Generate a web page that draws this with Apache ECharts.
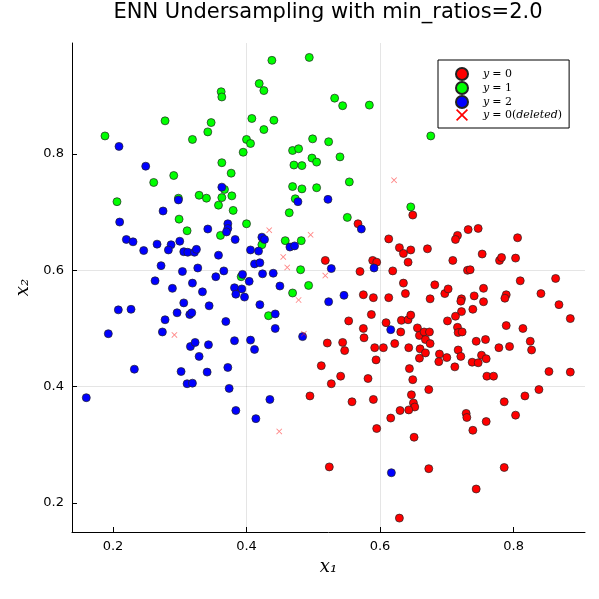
<!DOCTYPE html>
<html><head><meta charset="utf-8">
<script src="https://cdn.jsdelivr.net/npm/echarts@6/dist/echarts.min.js"></script>
<style>html,body{margin:0;padding:0;background:#fff}#c{width:599px;height:599px}</style>
</head><body><div id="c"></div>
<script>
// class y = 0 (kept)
const class0 = [[0.649,0.695],[0.567,0.680],[0.613,0.654],[0.629,0.639],[0.635,0.629],[0.646,0.635],[0.642,0.614],[0.518,0.617],[0.589,0.617],[0.595,0.614],[0.570,0.598],[0.619,0.599],[0.635,0.578],[0.575,0.558],[0.590,0.553],[0.613,0.553],[0.638,0.560],[0.587,0.524],[0.553,0.513],[0.609,0.510],[0.632,0.514],[0.642,0.515],[0.646,0.523],[0.575,0.500],[0.631,0.494],[0.656,0.501],[0.659,0.488],[0.576,0.484],[0.521,0.475],[0.544,0.476],[0.547,0.462],[0.592,0.467],[0.605,0.467],[0.622,0.474],[0.643,0.467],[0.660,0.465],[0.594,0.446],[0.659,0.449],[0.512,0.436],[0.644,0.431],
[0.716,0.660],[0.713,0.653],[0.732,0.670],[0.747,0.672],[0.806,0.656],[0.671,0.637],[0.709,0.617],[0.753,0.628],[0.779,0.617],[0.782,0.622],[0.803,0.621],[0.731,0.600],[0.735,0.601],[0.810,0.582],[0.863,0.586],[0.682,0.575],[0.697,0.560],[0.702,0.568],[0.755,0.569],[0.675,0.551],[0.722,0.551],[0.721,0.547],[0.741,0.556],[0.755,0.546],[0.789,0.558],[0.787,0.552],[0.841,0.560],[0.868,0.541],[0.885,0.517],[0.739,0.533],[0.722,0.529],[0.713,0.521],[0.701,0.513],[0.666,0.494],[0.674,0.494],[0.668,0.481],[0.675,0.474],[0.716,0.502],[0.717,0.493],[0.723,0.494],[0.789,0.505],[0.814,0.500],[0.744,0.478],[0.758,0.481],[0.778,0.467],[0.794,0.469],[0.825,0.478],[0.827,0.463],[0.668,0.458],[0.689,0.456],[0.700,0.450],[0.688,0.443],[0.717,0.463],[0.721,0.452],[0.752,0.454],[0.759,0.448],[0.738,0.442],[0.747,0.441],[0.712,0.434],
[0.649,0.412],[0.541,0.418],[0.527,0.405],[0.582,0.414],[0.495,0.384],[0.558,0.374],[0.590,0.378],[0.647,0.386],[0.650,0.372],[0.652,0.365],[0.643,0.360],[0.630,0.359],[0.616,0.346],[0.595,0.328],[0.651,0.313],[0.524,0.262],[0.629,0.174],[0.760,0.418],[0.770,0.418],[0.853,0.426],[0.885,0.425],[0.673,0.395],[0.838,0.395],[0.817,0.384],[0.786,0.374],[0.729,0.354],[0.730,0.347],[0.759,0.340],[0.803,0.351],[0.739,0.325],[0.673,0.259],[0.786,0.261],[0.744,0.224]];

// class y = 1
const class1 = [[0.362,0.907],[0.363,0.898],[0.278,0.857],[0.188,0.831],[0.347,0.854],[0.342,0.838],[0.319,0.825],[0.408,0.861],[0.400,0.825],[0.406,0.818],[0.395,0.803],[0.363,0.785],[0.377,0.767],[0.291,0.763],[0.261,0.751],[0.367,0.739],[0.329,0.729],[0.340,0.724],[0.363,0.725],[0.378,0.728],[0.298,0.724],[0.206,0.718],[0.358,0.712],[0.380,0.703],
[0.438,0.961],[0.494,0.966],[0.419,0.921],[0.426,0.909],[0.532,0.896],[0.544,0.883],[0.584,0.884],[0.441,0.858],[0.426,0.842],[0.499,0.826],[0.523,0.821],[0.469,0.806],[0.478,0.809],[0.498,0.793],[0.505,0.786],[0.540,0.795],[0.471,0.781],[0.483,0.780],[0.554,0.752],[0.469,0.744],[0.483,0.740],[0.505,0.742],[0.473,0.723],[0.464,0.699],[0.646,0.709],[0.676,0.831],
[0.400,0.680],[0.299,0.688],[0.311,0.668],[0.361,0.660],[0.392,0.589],[0.551,0.691],[0.423,0.644],[0.458,0.651],[0.482,0.651],[0.481,0.601],[0.469,0.561],[0.493,0.574],[0.433,0.522]];

// class y = 2
const class2 = [[0.209,0.813],[0.249,0.779],[0.363,0.743],[0.298,0.721],[0.275,0.702],[0.477,0.718],[0.522,0.722],[0.210,0.683],[0.342,0.671],[0.372,0.680],[0.372,0.672],[0.370,0.666],[0.383,0.653],[0.220,0.653],[0.230,0.649],[0.246,0.634],[0.266,0.645],[0.287,0.644],[0.283,0.635],[0.300,0.650],[0.306,0.632],[0.312,0.631],[0.322,0.631],[0.325,0.636],[0.358,0.626],[0.406,0.635],[0.412,0.611],[0.272,0.608],[0.304,0.598],[0.327,0.604],[0.366,0.599],[0.354,0.589],[0.394,0.593],[0.404,0.581],[0.263,0.582],[0.319,0.578],[0.289,0.569],[0.334,0.563],[0.382,0.570],[0.393,0.568],[0.384,0.559],[0.397,0.554],[0.306,0.544],[0.344,0.539],[0.208,0.532],[0.227,0.533],[0.296,0.527],[0.315,0.524],[0.318,0.527],[0.278,0.515],[0.369,0.512],[0.193,0.491],[0.274,0.494],[0.316,0.469],[0.323,0.476],[0.343,0.472],[0.382,0.479],[0.406,0.480],[0.412,0.464],[0.329,0.452],[0.232,0.430],[0.302,0.426],[0.311,0.405],[0.319,0.406],[0.341,0.425],[0.372,0.433],[0.374,0.397],[0.384,0.359],[0.160,0.381],
[0.572,0.671],[0.423,0.657],[0.427,0.653],[0.465,0.640],[0.472,0.642],[0.418,0.633],[0.420,0.613],[0.591,0.604],[0.527,0.603],[0.424,0.594],[0.440,0.595],[0.450,0.573],[0.546,0.557],[0.523,0.546],[0.420,0.541],[0.443,0.525],[0.443,0.500],[0.616,0.498],[0.484,0.486],[0.435,0.378],[0.414,0.345],[0.617,0.252]];

// class y = 0 (deleted by ENN)
const deleted0 = [[0.621,0.755],[0.292,0.489],[0.434,0.669],[0.496,0.661],[0.455,0.623],[0.461,0.605],[0.518,0.591],[0.478,0.549],[0.486,0.491],[0.449,0.323]];

const seriesNames = ['y = 0', 'y = 1', 'y = 2', 'y = 0 (deleted)'];
const legendLabels = ['{i|y} {r|= 0}', '{i|y} {r|= 1}', '{i|y} {r|= 2}', '{i|y} {r|= 0(}{i|deleted}{r|)}'];
const xTicks = [0.2, 0.4, 0.6, 0.8];
const yTicks = [0.2, 0.4, 0.6, 0.8];

const XPATH = 'path://M0,1 L1,0 L5,4 L9,0 L10,1 L6,5 L10,9 L9,10 L5,6 L1,10 L0,9 L4,5 Z';
const chart = echarts.init(document.getElementById('c'), null, {renderer: 'canvas'});

const axisCommon = {
  type: 'value',
  axisLine: {show: true, onZero: false, lineStyle: {color: '#000', width: 1}},
  axisTick: {show: true, inside: true, length: 5, lineStyle: {color: '#000', width: 1}},
  splitLine: {show: true, showMinLine: false, showMaxLine: false, lineStyle: {color: 'rgba(0,0,0,0.1)', width: 1}},
  axisLabel: {color: '#000', fontFamily: 'DejaVu Sans', fontSize: 13, showMinLabel: true, showMaxLabel: true,
    formatter: v => v.toFixed(1)},
  nameLocation: 'middle',
  nameTextStyle: {fontFamily: 'DejaVu Serif', fontStyle: 'italic', fontSize: 18, color: '#000'}
};

const circleStyle = c => ({color: c, borderColor: '#222', borderWidth: 0.7, opacity: 1});

chart.setOption({
  animation: false,
  backgroundColor: '#fff',
  title: {
    text: 'ENN Undersampling with min_ratios=2.0',
    left: 328, top: 2, textAlign: 'center', padding: 0,
    textStyle: {fontFamily: 'DejaVu Sans', fontSize: 21, fontWeight: 'normal', color: '#000'}
  },
  grid: {left: 72, right: 14, top: 43, bottom: 67, containLabel: false},
  xAxis: Object.assign({}, axisCommon, {
    min: 0.1386, max: 0.907, name: 'x\u2081', nameGap: 20,
    axisTick: Object.assign({}, axisCommon.axisTick, {customValues: xTicks}),
    axisLabel: Object.assign({}, axisCommon.axisLabel, {customValues: xTicks, margin: 8})
  }),
  yAxis: Object.assign({}, axisCommon, {
    min: 0.1501, max: 0.9908, name: 'x\u2082', nameGap: 39,
    axisTick: Object.assign({}, axisCommon.axisTick, {customValues: yTicks}),
    axisLabel: Object.assign({}, axisCommon.axisLabel, {customValues: yTicks, margin: 8})
  }),
  legend: {
    orient: 'vertical', left: 438, top: 60,
    padding: [7, 7, 7, 17], itemGap: 0, itemWidth: 12, itemHeight: 12,
    borderColor: '#000', borderWidth: 1, backgroundColor: '#fff', borderRadius: 0,
    data: [
      {name: seriesNames[0], icon: 'circle'},
      {name: seriesNames[1], icon: 'circle'},
      {name: seriesNames[2], icon: 'circle'},
      {name: seriesNames[3], icon: XPATH, itemStyle: {color: '#ff0000', opacity: 1, borderWidth: 0}}
    ],
    formatter: name => legendLabels[seriesNames.indexOf(name)],
    textStyle: {
      padding: [0, 0, 0, 10], lineHeight: 12, fontSize: 11,
      rich: {
        i: {fontFamily: 'DejaVu Serif', fontStyle: 'italic', fontSize: 11, color: '#000', lineHeight: 12},
        r: {fontFamily: 'DejaVu Serif', fontSize: 11, color: '#000', lineHeight: 12}
      }
    }
  },
  series: [
    {name: seriesNames[0], type: 'scatter', data: class0, symbol: 'circle', symbolSize: 8, itemStyle: circleStyle('#ff0000')},
    {name: seriesNames[1], type: 'scatter', data: class1, symbol: 'circle', symbolSize: 8, itemStyle: circleStyle('#00ff00')},
    {name: seriesNames[2], type: 'scatter', data: class2, symbol: 'circle', symbolSize: 8, itemStyle: circleStyle('#0000ff')},
    {name: seriesNames[3], type: 'scatter', data: deleted0, symbol: XPATH, symbolSize: 6, itemStyle: {color: 'rgba(255,40,40,0.7)'}}
  ]
});
</script></body></html>
